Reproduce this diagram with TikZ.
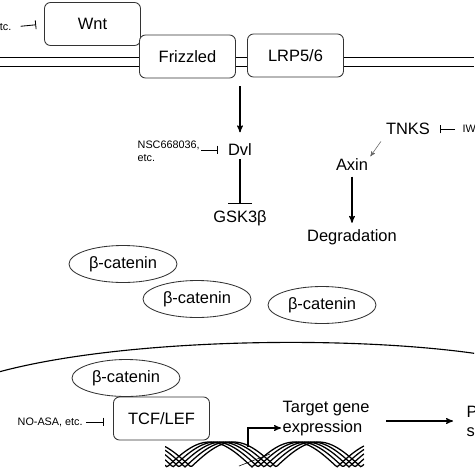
\documentclass[tikz,border=0pt]{standalone}
\usepackage{fontspec}
\setmainfont{Liberation Sans}
\usepackage{tikz}
\usetikzlibrary{arrows, arrows.meta, shapes, calc}
\tikzset{auto, >=stealth', font=\fontsize{11.7}{13.5}\selectfont}
\tikzset{box/.style={draw=black!80, fill=white, rounded corners=1.5mm,
    minimum width=24mm, minimum height=10.75mm, line width=.6pt}}
\tikzset{bcat/.style={ellipse, draw=black!80, fill=white, inner sep=0pt,
    minimum width=27mm, minimum height=9.25mm, line width=.6pt}}
\tikzset{lbl/.style={inner sep=1pt}}
\tikzset{note/.style={inner sep=1pt, font=\fontsize{7.7}{9.5}\selectfont}}
\tikzset{act/.style={->, line width=.8pt}}
\tikzset{inh/.style={-{Bar[width=2.2mm]}, line width=.6pt}}

\begin{document}
\begin{tikzpicture}[x=.25mm,y=-.25mm]
    \useasboundingbox[fill=white] (0,0) rectangle (474,474);
    \clip (0,0) rectangle (474,474);
    \draw[line width=.7pt] (0,57) -- (474,57);
    \draw[line width=.7pt] (0,66) -- (474,66);
    \draw[line width=.8pt] (-5,373) .. controls (120,338) and (350,335) .. (479,354);
    \node[box] (wnt) at (92.5,24) {Wnt};
    \node[box] (fzd) at (187.5,56.5) {Frizzled};
    \node[box] (lrp) at (295.5,55.5) {LRP5/6};
    \node[note, anchor=east] (iwp) at (13,27) {etc.};
    \draw[inh, shorten <=1.9mm, shorten >=2mm] (iwp.east) -- (wnt.west);
    \coordinate (sig) at (240,86);
    \node[lbl] (dvl) at (240,150) {Dvl};
    \node[note, align=left, anchor=north west] (nsc) at (136,139) {NSC668036,\\etc.};
    \node[lbl] (gsk) at (240,218) {GSK3β};
    \node[lbl] (tnks) at (408,129) {TNKS};
    \node[note, anchor=west] (iwr) at (461,129) {IWR-1, etc.};
    \node[lbl] (axin) at (352,165) {Axin};
    \node[lbl] (deg) at (352,237) {Degradation};
    \draw[act, shorten >=2.5mm] (sig) -- (dvl.north);
    \draw[inh, shorten >=2.2mm] (nsc.east |- dvl.west) -- (dvl.west);
    \draw[-{Bar[width=6mm]}, line width=.8pt, shorten <=.4mm, shorten >=1.2mm] (dvl.south) -- (gsk.north);
    \draw[inh, shorten <=1.5mm, shorten >=2.2mm] (iwr.west) -- (tnks.east);
    \draw[->, black!60, line width=.4pt, shorten <=1.5mm, shorten >=.3mm] (tnks.south west) -- (axin.north east);
    \draw[act, shorten <=1mm, shorten >=1.2mm] (axin.south) -- (deg.north);
    \node[bcat] (bc1) at (123,264) {β-catenin};
    \node[bcat] (bc2) at (197,299) {β-catenin};
    \node[bcat] (bc3) at (322,305) {β-catenin};
    \node[bcat] (bc4) at (126,378) {β-catenin};
    \node[box] (tcf) at (161.5,418.5) {TCF/LEF};
    \node[note, anchor=west] (noasa) at (16,422) {NO-ASA, etc.};
    \draw[inh, shorten <=.5mm, shorten >=2.4mm] (noasa.east) -- (noasa.east -| tcf.west);
    \begin{scope}[line width=.9pt]
      \clip (165,438) rectangle (364,471);
      \foreach \s in {0,6,...,24}
        \draw plot[domain=165:364, samples=120] (\x, {467-25*abs(sin((\x-167-\s)/85*180))});
    \end{scope}
    \draw[line width=.4pt] (239,466) -- (270,454);
    \node[lbl, anchor=west] (tgt) at (281,409) {Target gene};
    \node[lbl, anchor=west] (expr) at (281,428) {expression};
    \node[lbl, align=left, anchor=west] (prol) at (465,421) {Proliferation,\\survival};
    \coordinate (tss) at (248,447);
    \draw[->, line width=.8pt] (tss) |- (expr.west);
    \draw[act, shorten <=5.6mm, shorten >=3mm] (expr.east |- prol.west) -- (prol.west);
  \end{tikzpicture}
\end{document}
